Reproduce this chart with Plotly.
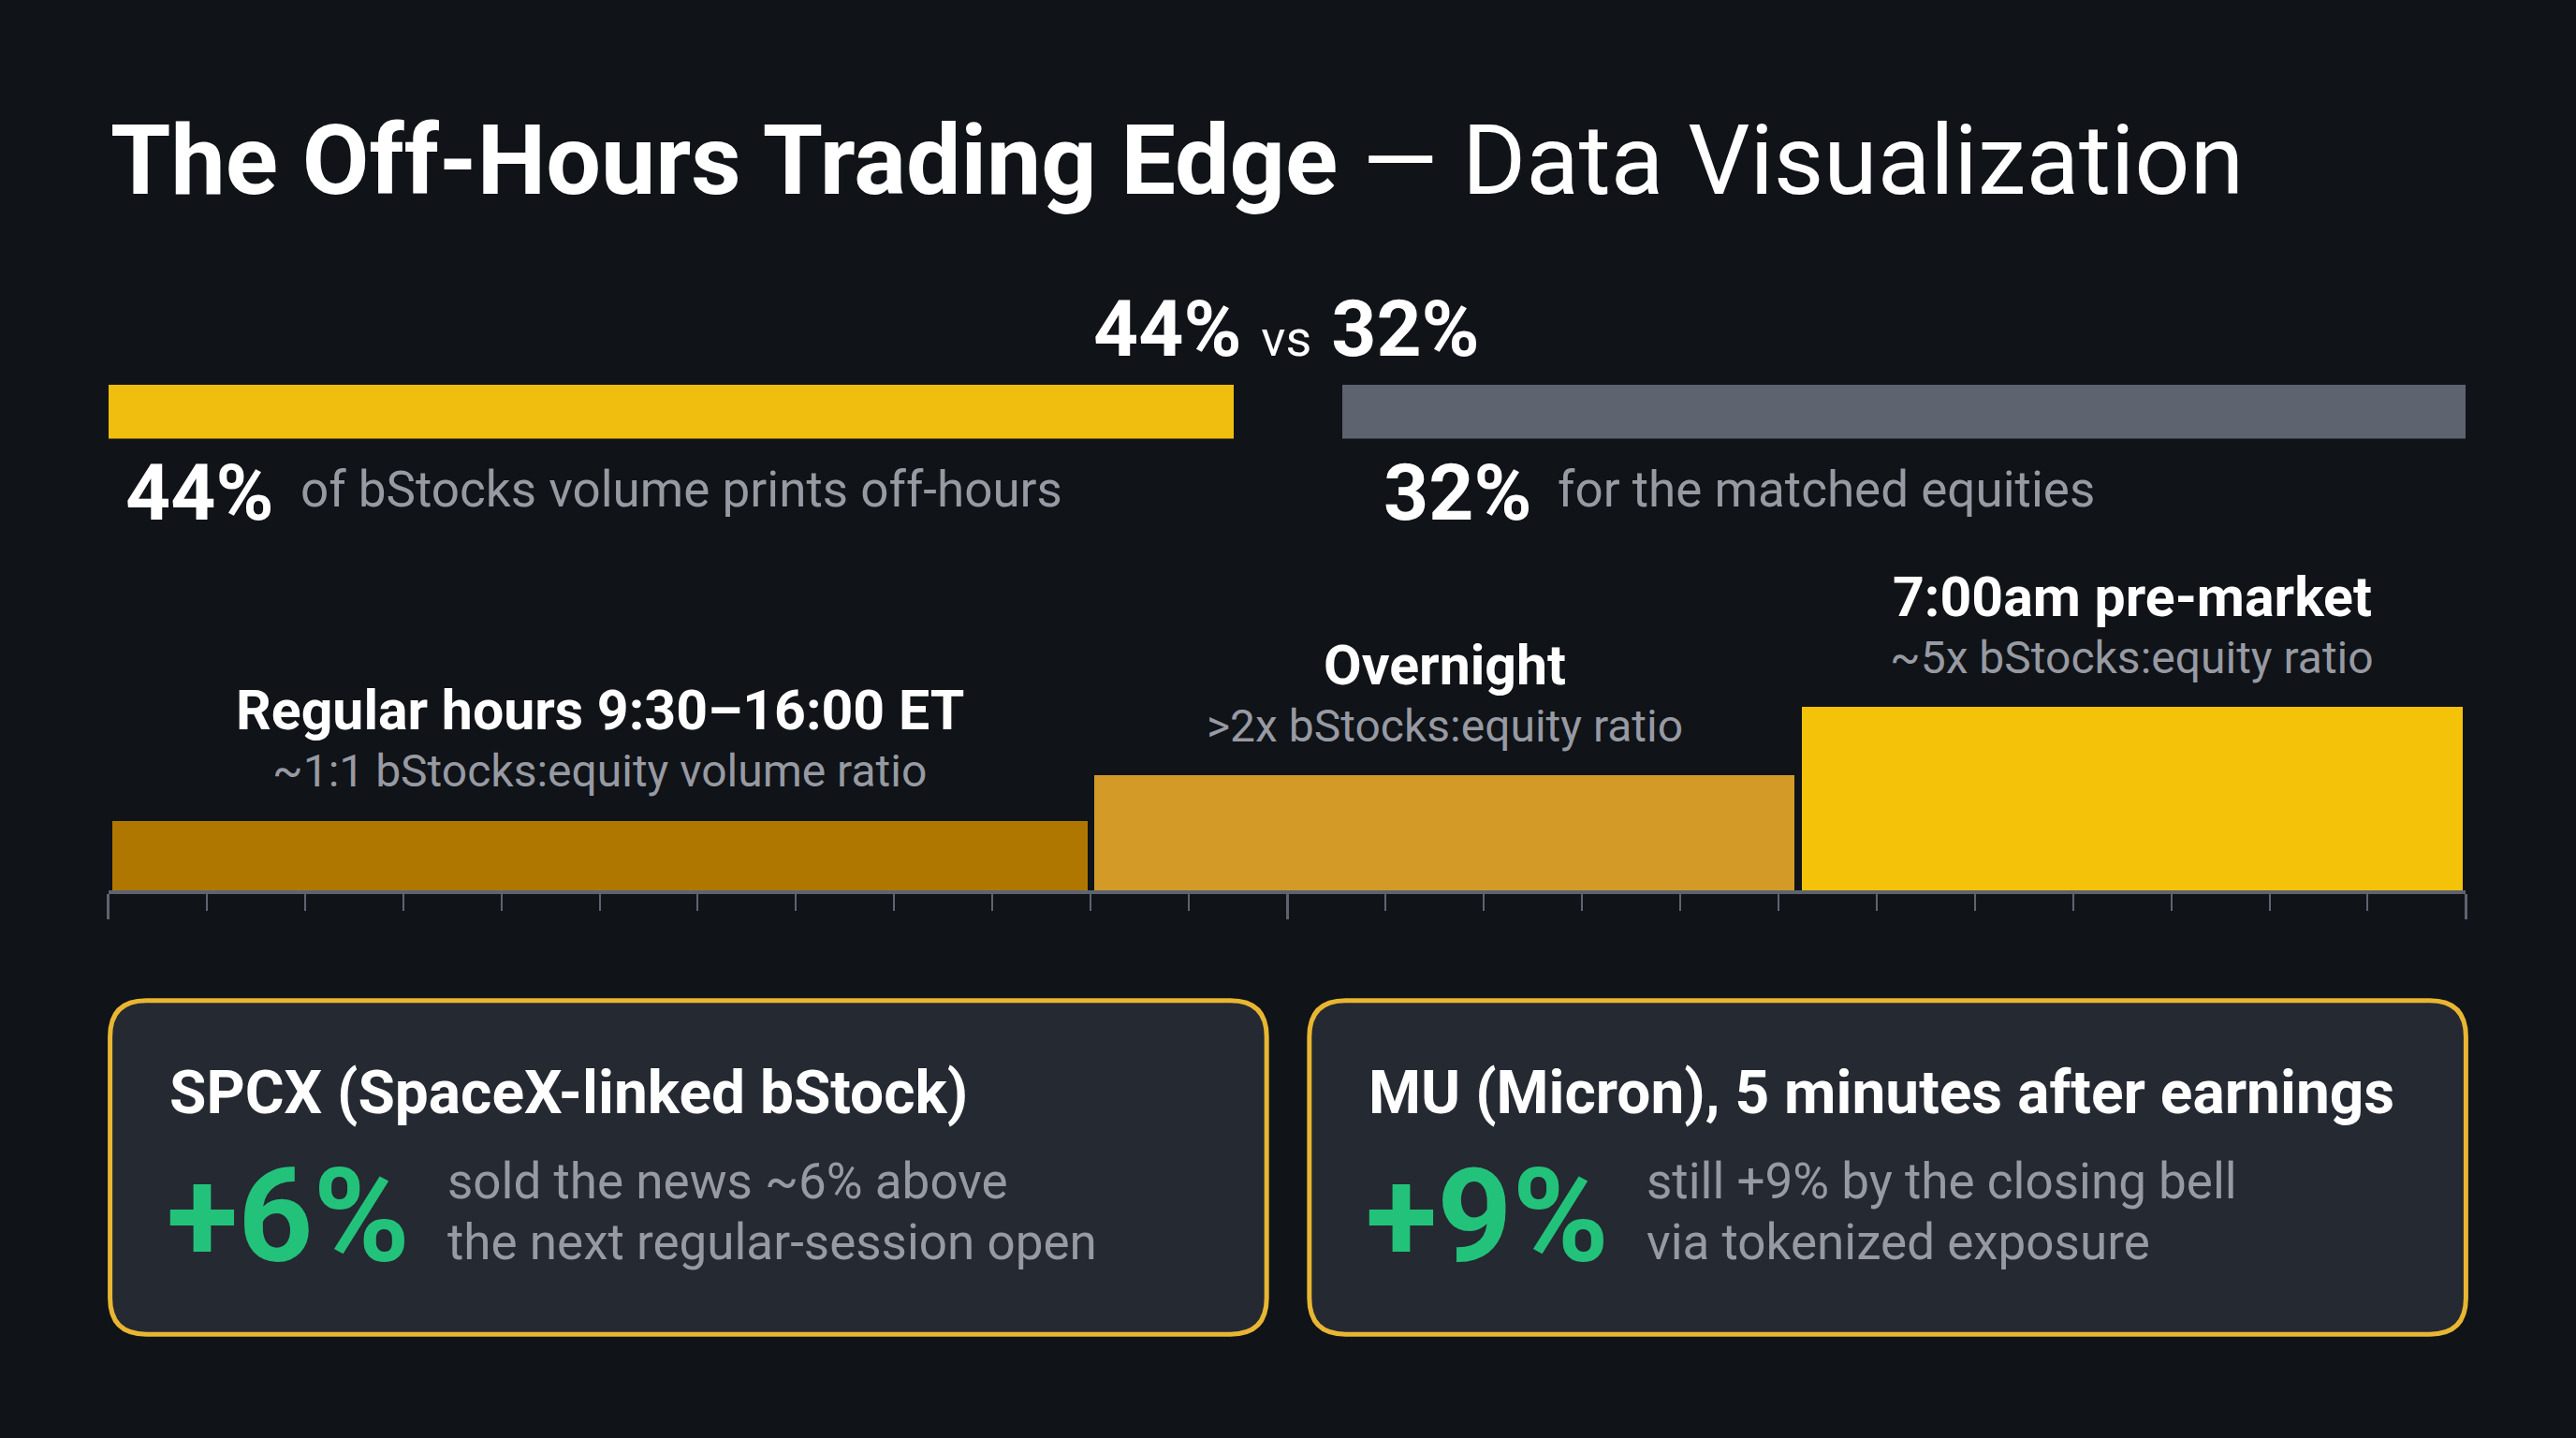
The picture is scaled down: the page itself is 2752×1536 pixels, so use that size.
import plotly.graph_objects as go

# --- data ---
share_labels = ["bStocks", "matched equities"]
share_values = [44, 32]
share_texts = ["of bStocks volume prints off-hours", "for the matched equities"]

sessions = ["Regular hours 9:30–16:00 ET", "Overnight", "7:00am pre-market"]
session_notes = ["~1:1 bStocks:equity volume ratio", ">2x bStocks:equity ratio", "~5x bStocks:equity ratio"]
session_start = [0, 10, 17.2]
session_end = [10, 17.2, 24]
session_ratio = [1.0, 1.65, 2.62]

card_titles = ["SPCX (SpaceX-linked bStock)", "MU (Micron), 5 minutes after earnings"]
card_moves = ["+6%", "+9%"]
card_lines = [["sold the news ~6% above", "the next regular-session open"],
              ["still +9% by the closing bell", "via tokenized exposure"]]

W, H = 2752, 1536
S = W / 1568  # reference was measured on a 1568 px wide copy

BG = "#101317"
FONT = "Roboto"
WHITE = "#FFFFFF"
GREY_TXT = "#979AA3"
SESSION_COLORS = ["#B07700", "#D39A28", "#F5C20A"]
TOP_COLORS = ["#F0BE0E", "#5E6370"]
GREEN = "#23C27A"


def px(x):
    return x / 1568


def py(y):
    return 1 - y * S / H


fig = go.Figure()

# timeline bars
gap = 0.07
mids = [(a + b) / 2 for a, b in zip(session_start, session_end)]
widths = [b - a - gap for a, b in zip(session_start, session_end)]
fig.add_trace(go.Bar(
    x=mids, y=session_ratio, width=widths,
    marker=dict(color=SESSION_COLORS, line=dict(width=0)),
    xaxis="x", yaxis="y", hoverinfo="skip", showlegend=False,
))

# 44% vs 32% bars
fig.add_trace(go.Bar(x=[share_values[0]], y=[0], orientation="h", width=1,
                     marker=dict(color=TOP_COLORS[0], line=dict(width=0)),
                     xaxis="x2", yaxis="y2", hoverinfo="skip", showlegend=False))
fig.add_trace(go.Bar(x=[share_values[1]], y=[0], orientation="h", width=1,
                     marker=dict(color=TOP_COLORS[1], line=dict(width=0)),
                     xaxis="x3", yaxis="y3", hoverinfo="skip", showlegend=False))

hidden = dict(visible=False, fixedrange=True)
fig.update_layout(
    width=W, height=H,
    paper_bgcolor=BG, plot_bgcolor="rgba(0,0,0,0)",
    margin=dict(l=0, r=0, t=0, b=0),
    font=dict(family=FONT, color=WHITE),
    bargap=0,
    xaxis=dict(domain=[px(66), px(1501)], range=[0, 24], anchor="y",
               showgrid=False, zeroline=False, showline=True, linecolor="#5E6370", linewidth=4,
               ticks="outside", tickvals=[0, 12, 24], ticklen=27, tickwidth=3, tickcolor="#5E6370",
               minor=dict(dtick=1, tick0=0, ticks="outside", ticklen=18, tickwidth=2, tickcolor="#5E6370"),
               showticklabels=False, fixedrange=True),
    yaxis=dict(domain=[py(542), py(430)], range=[0, max(session_ratio)], **hidden),
    xaxis2=dict(domain=[px(66), px(751)], range=[0, share_values[0]], anchor="y2", **hidden),
    yaxis2=dict(domain=[py(267), py(234)], range=[-0.5, 0.5], anchor="x2", **hidden),
    xaxis3=dict(domain=[px(817), px(1501)], range=[0, share_values[1]], anchor="y3", **hidden),
    yaxis3=dict(domain=[py(267), py(234)], range=[-0.5, 0.5], anchor="x3", **hidden),
)

ann = []


def text(x, y, s, size, color=WHITE, xanchor="left", xref="paper"):
    ann.append(dict(x=x, y=y, xref=xref, yref="paper", text=s, showarrow=False,
                    xanchor=xanchor, yanchor="middle", align="left",
                    font=dict(family=FONT, size=size, color=color)))


# title
text(px(66), py(98), "<b>The Off-Hours Trading Edge</b> — Data Visualization", 104)

# headline comparison
text(px(783), py(200),
     f"<b>{share_values[0]}%</b> <span style='font-size:54px'>vs</span> <b>{share_values[1]}%</b>",
     84, xanchor="center")

text(px(75), py(300), f"<b>{share_values[0]}%</b>", 84)
text(px(182), py(298), share_texts[0], 53, GREY_TXT)
text(px(841), py(300), f"<b>{share_values[1]}%</b>", 84)
text(px(947), py(298), share_texts[1], 53, GREY_TXT)

# session labels
title_y = [432, 405, 363]
for m, name, note, ty in zip(mids, sessions, session_notes, title_y):
    text(m, py(ty), f"<b>{name}</b>", 59, xanchor="center", xref="x")
    text(m, py(ty + 37), note, 48, GREY_TXT, xanchor="center", xref="x")

# cards
card_x = [(67, 771), (797, 1501)]
card_y = (609, 812)
r = 22
shapes = []
for (x0, x1), title, move, lines in zip(card_x, card_titles, card_moves, card_lines):
    y0, y1 = card_y
    rx, ry = r / 1568, r * S / H
    X0, X1, Y0, Y1 = px(x0), px(x1), py(y1), py(y0)
    path = (f"M {X0 + rx},{Y0} L {X1 - rx},{Y0} Q {X1},{Y0} {X1},{Y0 + ry} "
            f"L {X1},{Y1 - ry} Q {X1},{Y1} {X1 - rx},{Y1} L {X0 + rx},{Y1} "
            f"Q {X0},{Y1} {X0},{Y1 - ry} L {X0},{Y0 + ry} Q {X0},{Y0} {X0 + rx},{Y0} Z")
    shapes.append(dict(type="path", path=path, xref="paper", yref="paper",
                       fillcolor="#252932", line=dict(color="#E9B632", width=5), layer="below"))
    text(px(x0 + 35), py(665), f"<b>{title}</b>", 64)
    text(px(x0 + 33), py(740), f"<b>{move}</b>", 140, GREEN)
    text(px(x0 + 204), py(719), lines[0], 53, GREY_TXT)
    text(px(x0 + 204), py(756), lines[1], 53, GREY_TXT)

fig.update_layout(annotations=ann, shapes=shapes)
fig.write_html("out.html", config={"displayModeBar": False},
               post_script="document.body.style.margin='0';"
                           "document.body.style.background='" + BG + "';")
